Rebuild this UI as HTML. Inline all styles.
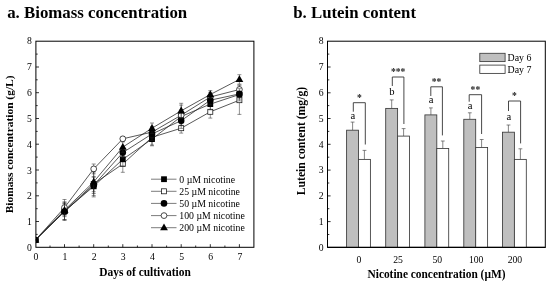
<!DOCTYPE html><html><head><meta charset="utf-8"><title>Figure</title><style>html,body{margin:0;padding:0;background:#fff}svg{display:block}text{font-family:"Liberation Serif",serif;fill:#000}</style></head><body>
<svg width="550" height="285" viewBox="0 0 550 285">
<rect width="550" height="285" fill="#fff"/>
<text x="7.2" y="17.8" font-size="17.5" font-weight="bold" textLength="180" lengthAdjust="spacingAndGlyphs">a. Biomass concentration</text>
<text x="293.2" y="17.8" font-size="17.5" font-weight="bold" textLength="122.8" lengthAdjust="spacingAndGlyphs">b. Lutein content</text>
<rect x="35.9" y="41.2" width="218.0" height="206.1" fill="none" stroke="#000" stroke-width="1"/>
<text x="31.8" y="251.1" font-size="9.7" text-anchor="end">0</text>
<line x1="35.9" x2="37.699999999999996" y1="234.4" y2="234.4" stroke="#000" stroke-width="0.8"/>
<line x1="35.9" x2="39.0" y1="221.5" y2="221.5" stroke="#000" stroke-width="0.8"/>
<text x="31.8" y="225.2" font-size="9.7" text-anchor="end">1</text>
<line x1="35.9" x2="37.699999999999996" y1="208.7" y2="208.7" stroke="#000" stroke-width="0.8"/>
<line x1="35.9" x2="39.0" y1="195.8" y2="195.8" stroke="#000" stroke-width="0.8"/>
<text x="31.8" y="199.3" font-size="9.7" text-anchor="end">2</text>
<line x1="35.9" x2="37.699999999999996" y1="182.9" y2="182.9" stroke="#000" stroke-width="0.8"/>
<line x1="35.9" x2="39.0" y1="170.0" y2="170.0" stroke="#000" stroke-width="0.8"/>
<text x="31.8" y="173.5" font-size="9.7" text-anchor="end">3</text>
<line x1="35.9" x2="37.699999999999996" y1="157.1" y2="157.1" stroke="#000" stroke-width="0.8"/>
<line x1="35.9" x2="39.0" y1="144.2" y2="144.2" stroke="#000" stroke-width="0.8"/>
<text x="31.8" y="147.6" font-size="9.7" text-anchor="end">4</text>
<line x1="35.9" x2="37.699999999999996" y1="131.4" y2="131.4" stroke="#000" stroke-width="0.8"/>
<line x1="35.9" x2="39.0" y1="118.5" y2="118.5" stroke="#000" stroke-width="0.8"/>
<text x="31.8" y="121.7" font-size="9.7" text-anchor="end">5</text>
<line x1="35.9" x2="37.699999999999996" y1="105.6" y2="105.6" stroke="#000" stroke-width="0.8"/>
<line x1="35.9" x2="39.0" y1="92.7" y2="92.7" stroke="#000" stroke-width="0.8"/>
<text x="31.8" y="95.8" font-size="9.7" text-anchor="end">6</text>
<line x1="35.9" x2="37.699999999999996" y1="79.8" y2="79.8" stroke="#000" stroke-width="0.8"/>
<line x1="35.9" x2="39.0" y1="67.0" y2="67.0" stroke="#000" stroke-width="0.8"/>
<text x="31.8" y="70.0" font-size="9.7" text-anchor="end">7</text>
<line x1="35.9" x2="37.699999999999996" y1="54.1" y2="54.1" stroke="#000" stroke-width="0.8"/>
<text x="31.8" y="44.1" font-size="9.7" text-anchor="end">8</text>
<text x="35.8" y="260" font-size="9.7" text-anchor="middle">0</text>
<line x1="50.0" x2="50.0" y1="247.3" y2="245.5" stroke="#000" stroke-width="0.8"/>
<line x1="64.5" x2="64.5" y1="247.3" y2="244.2" stroke="#000" stroke-width="0.8"/>
<text x="65.0" y="260" font-size="9.7" text-anchor="middle">1</text>
<line x1="79.1" x2="79.1" y1="247.3" y2="245.5" stroke="#000" stroke-width="0.8"/>
<line x1="93.7" x2="93.7" y1="247.3" y2="244.2" stroke="#000" stroke-width="0.8"/>
<text x="94.1" y="260" font-size="9.7" text-anchor="middle">2</text>
<line x1="108.3" x2="108.3" y1="247.3" y2="245.5" stroke="#000" stroke-width="0.8"/>
<line x1="122.8" x2="122.8" y1="247.3" y2="244.2" stroke="#000" stroke-width="0.8"/>
<text x="123.2" y="260" font-size="9.7" text-anchor="middle">3</text>
<line x1="137.4" x2="137.4" y1="247.3" y2="245.5" stroke="#000" stroke-width="0.8"/>
<line x1="152.0" x2="152.0" y1="247.3" y2="244.2" stroke="#000" stroke-width="0.8"/>
<text x="152.4" y="260" font-size="9.7" text-anchor="middle">4</text>
<line x1="166.6" x2="166.6" y1="247.3" y2="245.5" stroke="#000" stroke-width="0.8"/>
<line x1="181.2" x2="181.2" y1="247.3" y2="244.2" stroke="#000" stroke-width="0.8"/>
<text x="181.6" y="260" font-size="9.7" text-anchor="middle">5</text>
<line x1="195.7" x2="195.7" y1="247.3" y2="245.5" stroke="#000" stroke-width="0.8"/>
<line x1="210.3" x2="210.3" y1="247.3" y2="244.2" stroke="#000" stroke-width="0.8"/>
<text x="210.7" y="260" font-size="9.7" text-anchor="middle">6</text>
<line x1="224.9" x2="224.9" y1="247.3" y2="245.5" stroke="#000" stroke-width="0.8"/>
<line x1="239.4" x2="239.4" y1="247.3" y2="244.2" stroke="#000" stroke-width="0.8"/>
<text x="239.8" y="260" font-size="9.7" text-anchor="middle">7</text>
<text x="99.2" y="275.7" font-size="11.6" font-weight="bold" textLength="91.6" lengthAdjust="spacingAndGlyphs">Days of cultivation</text>
<text transform="translate(13.2,213.3) rotate(-90)" font-size="11.3" font-weight="bold" textLength="137.8" lengthAdjust="spacingAndGlyphs">Biomass concentration (g/L)</text>
<clipPath id="ca"><rect x="35.9" y="41.2" width="218.0" height="206.1"/></clipPath><g clip-path="url(#ca)">
<path d="M35.4 239.2V240.8M33.4 239.2h4M33.4 240.8h4M64.5 201.8V220.5M62.5 201.8h4M62.5 220.5h4M93.7 171.0V196.9M91.7 171.0h4M91.7 196.9h4M122.8 155.7V172.3M120.8 155.7h4M120.8 172.3h4M152.0 129.5V145.0M150.0 129.5h4M150.0 145.0h4M181.2 123.2V133.1M179.2 123.2h4M179.2 133.1h4M210.3 105.6V118.1M208.3 105.6h4M208.3 118.1h4M239.4 85.9V114.4M237.4 85.9h4M237.4 114.4h4" fill="none" stroke="#222" stroke-width="0.5"/>
<polyline points="35.4,240.0 64.5,211.2 93.7,183.9 122.8,164.0 152.0,137.3 181.2,128.2 210.3,111.8 239.4,100.2" fill="none" stroke="#222" stroke-width="0.75"/>
<rect x="32.9" y="237.5" width="5.0" height="5.0" fill="#fff" stroke="#111" stroke-width="0.75"/>
<rect x="62.0" y="208.7" width="5.0" height="5.0" fill="#fff" stroke="#111" stroke-width="0.75"/>
<rect x="91.2" y="181.4" width="5.0" height="5.0" fill="#fff" stroke="#111" stroke-width="0.75"/>
<rect x="120.3" y="161.5" width="5.0" height="5.0" fill="#fff" stroke="#111" stroke-width="0.75"/>
<rect x="149.5" y="134.8" width="5.0" height="5.0" fill="#fff" stroke="#111" stroke-width="0.75"/>
<rect x="178.7" y="125.7" width="5.0" height="5.0" fill="#fff" stroke="#111" stroke-width="0.75"/>
<rect x="207.8" y="109.3" width="5.0" height="5.0" fill="#fff" stroke="#111" stroke-width="0.75"/>
<rect x="236.9" y="97.7" width="5.0" height="5.0" fill="#fff" stroke="#111" stroke-width="0.75"/>
<path d="M35.4 239.2V240.8M33.4 239.2h4M33.4 240.8h4M64.5 202.6V219.7M62.5 202.6h4M62.5 219.7h4M93.7 176.9V195.6M91.7 176.9h4M91.7 195.6h4M122.8 152.8V165.8M120.8 152.8h4M120.8 165.8h4M152.0 132.3V145.8M150.0 132.3h4M150.0 145.8h4M181.2 110.0V123.0M179.2 110.0h4M179.2 123.0h4M210.3 98.3V109.8M208.3 98.3h4M208.3 109.8h4M239.4 88.0V100.9M237.4 88.0h4M237.4 100.9h4" fill="none" stroke="#222" stroke-width="0.5"/>
<polyline points="35.4,240.0 64.5,211.2 93.7,186.3 122.8,159.3 152.0,139.1 181.2,116.5 210.3,104.1 239.4,94.5" fill="none" stroke="#222" stroke-width="0.75"/>
<rect x="32.5" y="237.1" width="5.8" height="5.8" fill="#000"/>
<rect x="61.6" y="208.3" width="5.8" height="5.8" fill="#000"/>
<rect x="90.8" y="183.4" width="5.8" height="5.8" fill="#000"/>
<rect x="119.9" y="156.4" width="5.8" height="5.8" fill="#000"/>
<rect x="149.1" y="136.2" width="5.8" height="5.8" fill="#000"/>
<rect x="178.2" y="113.6" width="5.8" height="5.8" fill="#000"/>
<rect x="207.4" y="101.2" width="5.8" height="5.8" fill="#000"/>
<rect x="236.5" y="91.6" width="5.8" height="5.8" fill="#000"/>
<path d="M35.4 239.2V240.8M33.4 239.2h4M33.4 240.8h4M64.5 199.5V215.6M62.5 199.5h4M62.5 215.6h4M93.7 164.0V173.8M91.7 164.0h4M91.7 173.8h4M122.8 136.7V140.9M120.8 136.7h4M120.8 140.9h4M152.0 126.4V137.8M150.0 126.4h4M150.0 137.8h4M181.2 105.1V125.3M179.2 105.1h4M179.2 125.3h4M210.3 92.4V101.7M208.3 92.4h4M208.3 101.7h4M239.4 84.9V94.2M237.4 84.9h4M237.4 94.2h4" fill="none" stroke="#222" stroke-width="0.5"/>
<polyline points="35.4,240.0 64.5,207.6 93.7,168.9 122.8,138.8 152.0,132.1 181.2,115.2 210.3,97.0 239.4,89.5" fill="none" stroke="#222" stroke-width="0.75"/>
<circle cx="35.4" cy="240.0" r="2.9" fill="#fff" stroke="#111" stroke-width="0.75"/>
<circle cx="64.5" cy="207.6" r="2.9" fill="#fff" stroke="#111" stroke-width="0.75"/>
<circle cx="93.7" cy="168.9" r="2.9" fill="#fff" stroke="#111" stroke-width="0.75"/>
<circle cx="122.8" cy="138.8" r="2.9" fill="#fff" stroke="#111" stroke-width="0.75"/>
<circle cx="152.0" cy="132.1" r="2.9" fill="#fff" stroke="#111" stroke-width="0.75"/>
<circle cx="181.2" cy="115.2" r="2.9" fill="#fff" stroke="#111" stroke-width="0.75"/>
<circle cx="210.3" cy="97.0" r="2.9" fill="#fff" stroke="#111" stroke-width="0.75"/>
<circle cx="239.4" cy="89.5" r="2.9" fill="#fff" stroke="#111" stroke-width="0.75"/>
<path d="M35.4 239.2V240.8M33.4 239.2h4M33.4 240.8h4M64.5 203.9V219.5M62.5 203.9h4M62.5 219.5h4M93.7 176.9V193.5M91.7 176.9h4M91.7 193.5h4M122.8 147.4V157.7M120.8 147.4h4M120.8 157.7h4M152.0 127.4V140.4M150.0 127.4h4M150.0 140.4h4M181.2 112.9V128.4M179.2 112.9h4M179.2 128.4h4M210.3 95.5V104.8M208.3 95.5h4M208.3 104.8h4M239.4 88.7V99.1M237.4 88.7h4M237.4 99.1h4" fill="none" stroke="#222" stroke-width="0.5"/>
<polyline points="35.4,240.0 64.5,211.7 93.7,185.2 122.8,152.6 152.0,133.9 181.2,120.7 210.3,100.2 239.4,93.9" fill="none" stroke="#222" stroke-width="0.75"/>
<circle cx="35.4" cy="240.0" r="3.3" fill="#000"/>
<circle cx="64.5" cy="211.7" r="3.3" fill="#000"/>
<circle cx="93.7" cy="185.2" r="3.3" fill="#000"/>
<circle cx="122.8" cy="152.6" r="3.3" fill="#000"/>
<circle cx="152.0" cy="133.9" r="3.3" fill="#000"/>
<circle cx="181.2" cy="120.7" r="3.3" fill="#000"/>
<circle cx="210.3" cy="100.2" r="3.3" fill="#000"/>
<circle cx="239.4" cy="93.9" r="3.3" fill="#000"/>
<path d="M35.4 239.2V240.8M33.4 239.2h4M33.4 240.8h4M64.5 203.7V216.6M62.5 203.7h4M62.5 216.6h4M93.7 172.0V191.7M91.7 172.0h4M91.7 191.7h4M122.8 141.9V152.3M120.8 141.9h4M120.8 152.3h4M152.0 123.0V133.4M150.0 123.0h4M150.0 133.4h4M181.2 103.3V118.3M179.2 103.3h4M179.2 118.3h4M210.3 90.6V98.3M208.3 90.6h4M208.3 98.3h4M239.4 74.7V84.1M237.4 74.7h4M237.4 84.1h4" fill="none" stroke="#222" stroke-width="0.5"/>
<polyline points="35.4,240.0 64.5,210.1 93.7,181.9 122.8,147.1 152.0,128.2 181.2,110.8 210.3,94.5 239.4,79.4" fill="none" stroke="#222" stroke-width="0.75"/>
<path d="M31.5 242.7L39.3 242.7L35.4 235.8Z" fill="#000"/>
<path d="M60.6 212.8L68.5 212.8L64.5 205.9Z" fill="#000"/>
<path d="M89.8 184.6L97.6 184.6L93.7 177.7Z" fill="#000"/>
<path d="M118.9 149.8L126.8 149.8L122.8 142.9Z" fill="#000"/>
<path d="M148.1 130.9L155.9 130.9L152.0 124.0Z" fill="#000"/>
<path d="M177.2 113.5L185.1 113.5L181.2 106.6Z" fill="#000"/>
<path d="M206.4 97.2L214.2 97.2L210.3 90.3Z" fill="#000"/>
<path d="M235.5 82.1L243.3 82.1L239.4 75.2Z" fill="#000"/>
</g>
<line x1="151.0" x2="176.5" y1="179.2" y2="179.2" stroke="#444" stroke-width="0.7"/>
<rect x="161.1" y="176.3" width="5.8" height="5.8" fill="#000"/>
<text x="179.3" y="182.8" font-size="9.8">0 µM nicotine</text>
<line x1="151.0" x2="176.5" y1="191.3" y2="191.3" stroke="#444" stroke-width="0.7"/>
<rect x="161.5" y="188.8" width="5.0" height="5.0" fill="#fff" stroke="#111" stroke-width="0.75"/>
<text x="179.3" y="194.8" font-size="9.8">25 µM nicotine</text>
<line x1="151.0" x2="176.5" y1="203.4" y2="203.4" stroke="#444" stroke-width="0.7"/>
<circle cx="164.0" cy="203.4" r="3.3" fill="#000"/>
<text x="179.3" y="206.9" font-size="9.8">50 µM nicotine</text>
<line x1="151.0" x2="176.5" y1="215.6" y2="215.6" stroke="#444" stroke-width="0.7"/>
<circle cx="164.0" cy="215.6" r="2.9" fill="#fff" stroke="#111" stroke-width="0.75"/>
<text x="179.3" y="219.1" font-size="9.8">100 µM nicotine</text>
<line x1="151.0" x2="176.5" y1="227.7" y2="227.7" stroke="#444" stroke-width="0.7"/>
<path d="M160.1 230.3L167.9 230.3L164.0 223.5Z" fill="#000"/>
<text x="179.3" y="231.2" font-size="9.8">200 µM nicotine</text>
<rect x="327.5" y="41.2" width="217.8" height="206.2" fill="none" stroke="#000" stroke-width="1"/>
<text x="323.6" y="251.0" font-size="9.7" text-anchor="end">0</text>
<line x1="327.5" x2="329.3" y1="234.5" y2="234.5" stroke="#000" stroke-width="0.8"/>
<line x1="327.5" x2="330.6" y1="221.6" y2="221.6" stroke="#000" stroke-width="0.8"/>
<text x="323.6" y="225.1" font-size="9.7" text-anchor="end">1</text>
<line x1="327.5" x2="329.3" y1="208.7" y2="208.7" stroke="#000" stroke-width="0.8"/>
<line x1="327.5" x2="330.6" y1="195.9" y2="195.9" stroke="#000" stroke-width="0.8"/>
<text x="323.6" y="199.2" font-size="9.7" text-anchor="end">2</text>
<line x1="327.5" x2="329.3" y1="183.0" y2="183.0" stroke="#000" stroke-width="0.8"/>
<line x1="327.5" x2="330.6" y1="170.1" y2="170.1" stroke="#000" stroke-width="0.8"/>
<text x="323.6" y="173.4" font-size="9.7" text-anchor="end">3</text>
<line x1="327.5" x2="329.3" y1="157.2" y2="157.2" stroke="#000" stroke-width="0.8"/>
<line x1="327.5" x2="330.6" y1="144.3" y2="144.3" stroke="#000" stroke-width="0.8"/>
<text x="323.6" y="147.5" font-size="9.7" text-anchor="end">4</text>
<line x1="327.5" x2="329.3" y1="131.4" y2="131.4" stroke="#000" stroke-width="0.8"/>
<line x1="327.5" x2="330.6" y1="118.5" y2="118.5" stroke="#000" stroke-width="0.8"/>
<text x="323.6" y="121.6" font-size="9.7" text-anchor="end">5</text>
<line x1="327.5" x2="329.3" y1="105.6" y2="105.6" stroke="#000" stroke-width="0.8"/>
<line x1="327.5" x2="330.6" y1="92.8" y2="92.8" stroke="#000" stroke-width="0.8"/>
<text x="323.6" y="95.8" font-size="9.7" text-anchor="end">6</text>
<line x1="327.5" x2="329.3" y1="79.9" y2="79.9" stroke="#000" stroke-width="0.8"/>
<line x1="327.5" x2="330.6" y1="67.0" y2="67.0" stroke="#000" stroke-width="0.8"/>
<text x="323.6" y="69.9" font-size="9.7" text-anchor="end">7</text>
<line x1="327.5" x2="329.3" y1="54.1" y2="54.1" stroke="#000" stroke-width="0.8"/>
<text x="323.6" y="44.0" font-size="9.7" text-anchor="end">8</text>
<text x="367.5" y="278.4" font-size="11.6" font-weight="bold" textLength="138" lengthAdjust="spacingAndGlyphs">Nicotine concentration (µM)</text>
<text transform="translate(304.8,195.3) rotate(-90)" font-size="11.6" font-weight="bold" textLength="108.5" lengthAdjust="spacingAndGlyphs">Lutein content (mg/g)</text>
<path d="M352.6 130.2V122.1M350.7 122.1h3.8M364.4 159.4V150.4M362.6 150.4h3.8" fill="none" stroke="#444" stroke-width="0.65"/>
<rect x="346.6" y="130.2" width="11.9" height="117.2" fill="#bfbfbf" stroke="#3a3a3a" stroke-width="0.85"/>
<rect x="358.5" y="159.4" width="11.9" height="88.0" fill="#fff" stroke="#3a3a3a" stroke-width="0.85"/>
<text x="359.0" y="262.8" font-size="9.7" text-anchor="middle">0</text>
<text x="352.9" y="118.5" font-size="10.6" text-anchor="middle">a</text>
<path d="M353.3 111.7V102.7H365.3V144.5" fill="none" stroke="#333" stroke-width="0.9"/>
<text x="359.3" y="100.8" font-size="9.6" font-weight="bold" style="fill:#222" text-anchor="middle">*</text>
<path d="M391.7 108.4V99.9M389.8 99.9h3.8M403.6 136.1V128.6M401.7 128.6h3.8" fill="none" stroke="#444" stroke-width="0.65"/>
<rect x="385.7" y="108.4" width="11.9" height="139.0" fill="#bfbfbf" stroke="#3a3a3a" stroke-width="0.85"/>
<rect x="397.6" y="136.1" width="11.9" height="111.3" fill="#fff" stroke="#3a3a3a" stroke-width="0.85"/>
<text x="398.1" y="262.8" font-size="9.7" text-anchor="middle">25</text>
<text x="392.0" y="94.6" font-size="10.6" text-anchor="middle">b</text>
<path d="M392.3 86.0V77.0H403.9V124.0" fill="none" stroke="#333" stroke-width="0.9"/>
<text x="398.1" y="75.1" font-size="9.6" font-weight="bold" style="fill:#222" text-anchor="middle">***</text>
<path d="M430.9 114.9V107.9M429.0 107.9h3.8M442.8 148.5V141.0M440.9 141.0h3.8" fill="none" stroke="#444" stroke-width="0.65"/>
<rect x="424.9" y="114.9" width="11.9" height="132.5" fill="#bfbfbf" stroke="#3a3a3a" stroke-width="0.85"/>
<rect x="436.8" y="148.5" width="11.9" height="98.9" fill="#fff" stroke="#3a3a3a" stroke-width="0.85"/>
<text x="437.3" y="262.8" font-size="9.7" text-anchor="middle">50</text>
<text x="431.2" y="103.2" font-size="10.6" text-anchor="middle">a</text>
<path d="M430.8 96.0V86.8H442.4V135.4" fill="none" stroke="#333" stroke-width="0.9"/>
<text x="436.6" y="84.9" font-size="9.6" font-weight="bold" style="fill:#222" text-anchor="middle">**</text>
<path d="M469.8 119.3V112.8M467.9 112.8h3.8M481.6 147.5V139.5M479.8 139.5h3.8" fill="none" stroke="#444" stroke-width="0.65"/>
<rect x="463.8" y="119.3" width="11.9" height="128.1" fill="#bfbfbf" stroke="#3a3a3a" stroke-width="0.85"/>
<rect x="475.7" y="147.5" width="11.9" height="99.9" fill="#fff" stroke="#3a3a3a" stroke-width="0.85"/>
<text x="476.2" y="262.8" font-size="9.7" text-anchor="middle">100</text>
<text x="470.1" y="108.8" font-size="10.6" text-anchor="middle">a</text>
<path d="M469.2 101.7V94.7H481.6V134.0" fill="none" stroke="#333" stroke-width="0.9"/>
<text x="475.4" y="92.8" font-size="9.6" font-weight="bold" style="fill:#222" text-anchor="middle">**</text>
<path d="M508.4 132.2V125.0M506.6 125.0h3.8M520.4 159.4V148.8M518.5 148.8h3.8" fill="none" stroke="#444" stroke-width="0.65"/>
<rect x="502.5" y="132.2" width="11.9" height="115.2" fill="#bfbfbf" stroke="#3a3a3a" stroke-width="0.85"/>
<rect x="514.4" y="159.4" width="11.9" height="88.0" fill="#fff" stroke="#3a3a3a" stroke-width="0.85"/>
<text x="514.9" y="262.8" font-size="9.7" text-anchor="middle">200</text>
<text x="508.8" y="120.4" font-size="10.6" text-anchor="middle">a</text>
<path d="M508.5 111.0V101.0H520.6V143.4" fill="none" stroke="#333" stroke-width="0.9"/>
<text x="514.5" y="99.1" font-size="9.6" font-weight="bold" style="fill:#222" text-anchor="middle">*</text>
<line x1="327.5" x2="545.3" y1="247.4" y2="247.4" stroke="#000" stroke-width="1.2"/>
<rect x="479.8" y="53.3" width="25.3" height="8.3" fill="#bfbfbf" stroke="#3a3a3a" stroke-width="0.85"/>
<rect x="479.8" y="65.1" width="25.3" height="8.3" fill="#fff" stroke="#3a3a3a" stroke-width="0.85"/>
<text x="507.6" y="61" font-size="9.9">Day 6</text>
<text x="507.6" y="72.8" font-size="9.9">Day 7</text>
</svg></body></html>
